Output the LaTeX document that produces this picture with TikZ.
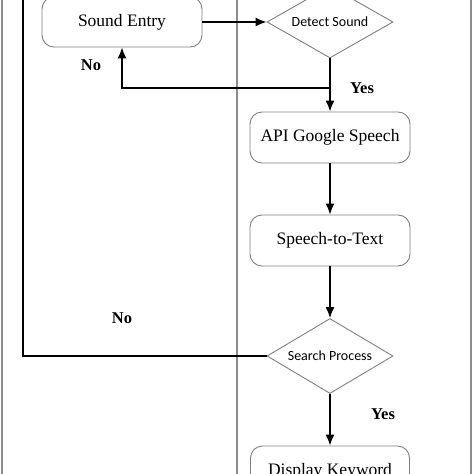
\documentclass[tikz,border=0pt]{standalone}
\usepackage{fontspec}
\setmainfont{Liberation Serif}
\newfontfamily\calibri{Carlito}
\usepackage{tikz}
\usetikzlibrary{shapes.geometric,arrows.meta}

\begin{document}
\begin{tikzpicture}[x=1pt,y=-1pt,
    procbox/.style={draw=black!50,line width=0.9pt,rounded corners=12pt,minimum width=160pt,minimum height=51pt,font=\fontsize{17.5}{20}\selectfont},
    decision/.style={draw=black!50,line width=0.9pt,diamond,aspect=1.7,inner sep=0pt,minimum width=126pt,minimum height=74pt,font=\calibri\fontsize{14}{16}\selectfont},
    flow/.style={line width=1.4pt,-{Latex[length=11pt,width=9pt]}},
    answer/.style={font=\bfseries\fontsize{16.5}{18}\selectfont}]
      \clip (0,0) rectangle (474,474);
      \fill[white] (0,0) rectangle (474,474);
      % lanes
      \draw[black!45,line width=2.2pt] (2,0) -- (2,474);
      \draw[black!45,line width=2.2pt] (237,0) -- (237,474);
      \draw[black!45,line width=2.2pt] (471,0) -- (471,474);
      \node[procbox,minimum height=50pt] (entry) at (122,22) {Sound Entry};
      \node[decision,minimum height=72pt] (detect) at (330,22) {Detect Sound};
      \node[procbox] (api) at (330,137.5) {API Google Speech};
      \node[procbox] (stt) at (330,240.5) {Speech-to-Text};
      \node[decision,minimum height=75pt] (search) at (330,356) {Search Process};
      \node[procbox,minimum width=159pt] (show) at (330,471.5) {Display Keyword};
      \coordinate (split) at (330,88);
      \coordinate (loopend) at (23,-20);
      \draw[flow] (entry.east) -- (detect.west);
      \draw[flow] (detect.south) -- (api.north);
      \draw[flow] (split) -| (entry.south);
      \draw[flow] (api) -- (stt);
      \draw[flow] (stt) -- (search);
      \draw[flow] (search) -- (show);
      \draw[line width=1.4pt] (search.west) -| (loopend);
      \node[answer] (no1) at (91,65) {No};
      \node[answer] (yes1) at (362,88) {Yes};
      \node[answer] (no2) at (122,318) {No};
      \node[answer] (yes2) at (383,414) {Yes};
    \end{tikzpicture}
\end{document}
